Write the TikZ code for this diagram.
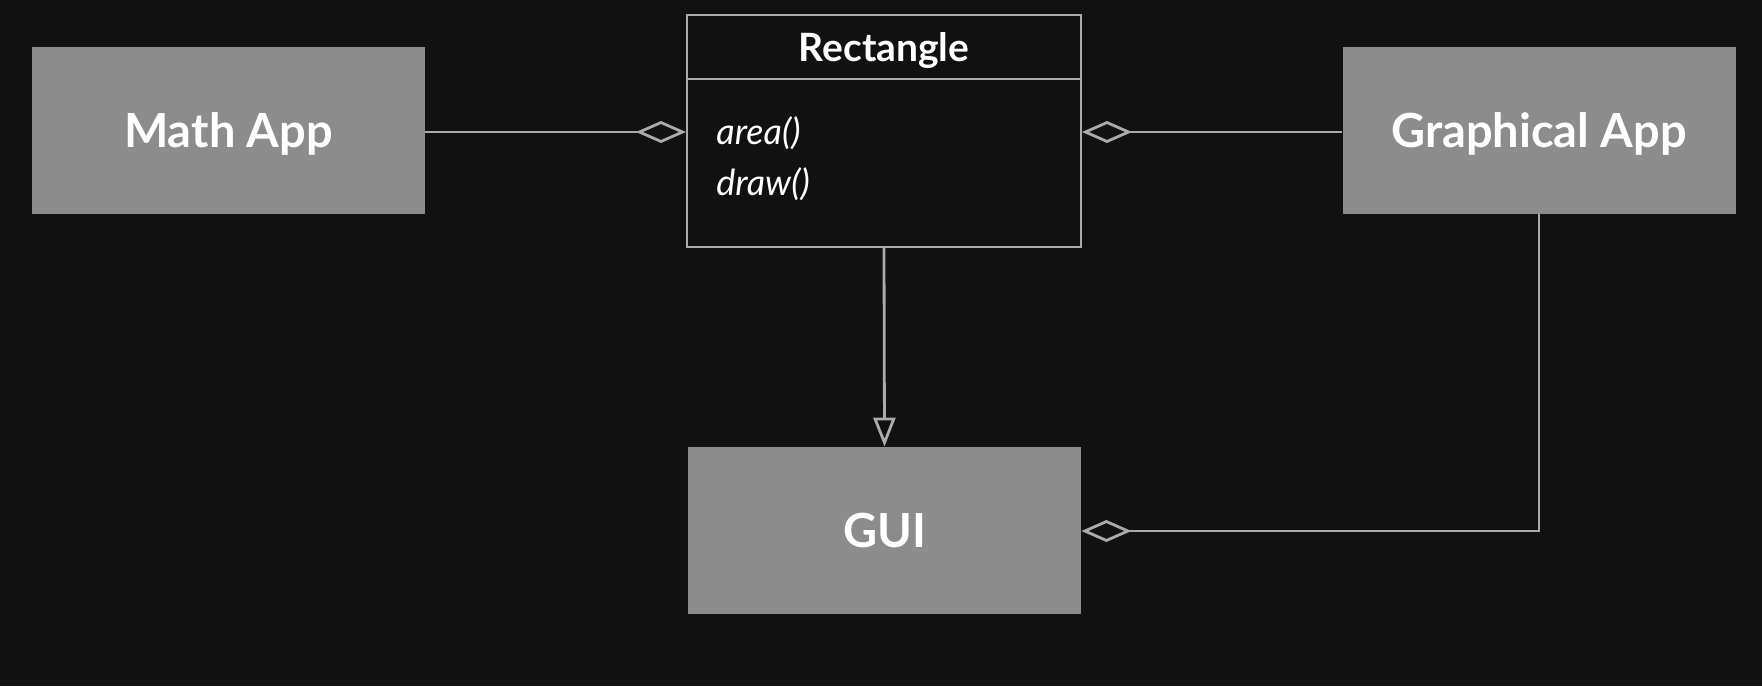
\documentclass[tikz,border=0pt]{standalone}
\usepackage{fontspec}
\setmainfont{Lato}
\usetikzlibrary{arrows.meta}
\definecolor{bg}{HTML}{111111}
\definecolor{boxfill}{HTML}{8C8C8C}
\definecolor{linec}{HTML}{ABABAB}
\begin{document}
\begin{tikzpicture}[x=0.5pt,y=-0.5pt,
  appbox/.style={fill=boxfill, draw=none, minimum width=196.5pt, minimum height=83.5pt, inner sep=0pt,
    text=white, text depth=0pt, font=\fontsize{23.5pt}{27pt}\selectfont\bfseries},
  classpart/.style={draw=linec, line width=1pt, minimum width=197pt, inner sep=0pt, text=white},
  conn/.style={draw=linec, line width=1.4pt},
  agg/.style={conn, -{Diamond[open, length=25pt, width=11pt]}},
  gen/.style={conn, -{Triangle[open, length=14.5pt, width=11pt]}}]
\fill[bg] (0,0) rectangle (1762,686);
\useasboundingbox (0,0) rectangle (1762,686);
\node[appbox] (math) at (228.5,130) {Math App};
\node[appbox] (gapp) at (1539,130) {Graphical App};
\node[appbox] (gui) at (884.5,530.5) {GUI};
\node[classpart, minimum height=32pt, text depth=0pt, font=\fontsize{19.5pt}{23pt}\selectfont\bfseries] (head) at (884,47) {Rectangle};
\node[classpart, minimum height=84pt] (body) at (884,163) {};
\node[anchor=north west, inner sep=0pt, text=white, align=left,
  font=\fontsize{18pt}{25.5pt}\selectfont\itshape] (ops) at (716,116) {area()\\draw()};
\coordinate (mj) at (body.west |- 0,132);
\coordinate (gj) at (body.east |- 0,132);
\coordinate (ms) at (math.east |- 0,132);
\coordinate (gs) at (gapp.west |- 0,132);
\coordinate (gb) at (gapp.south);
\coordinate (ge) at (gui.east |- 0,531);
\draw[agg] (ms) -- (mj);
\draw[agg] (gs) -- (gj);
\draw[gen] (body.south) -- (gui.north);
\draw[agg] (gb) |- (ge);
\end{tikzpicture}
\end{document}
